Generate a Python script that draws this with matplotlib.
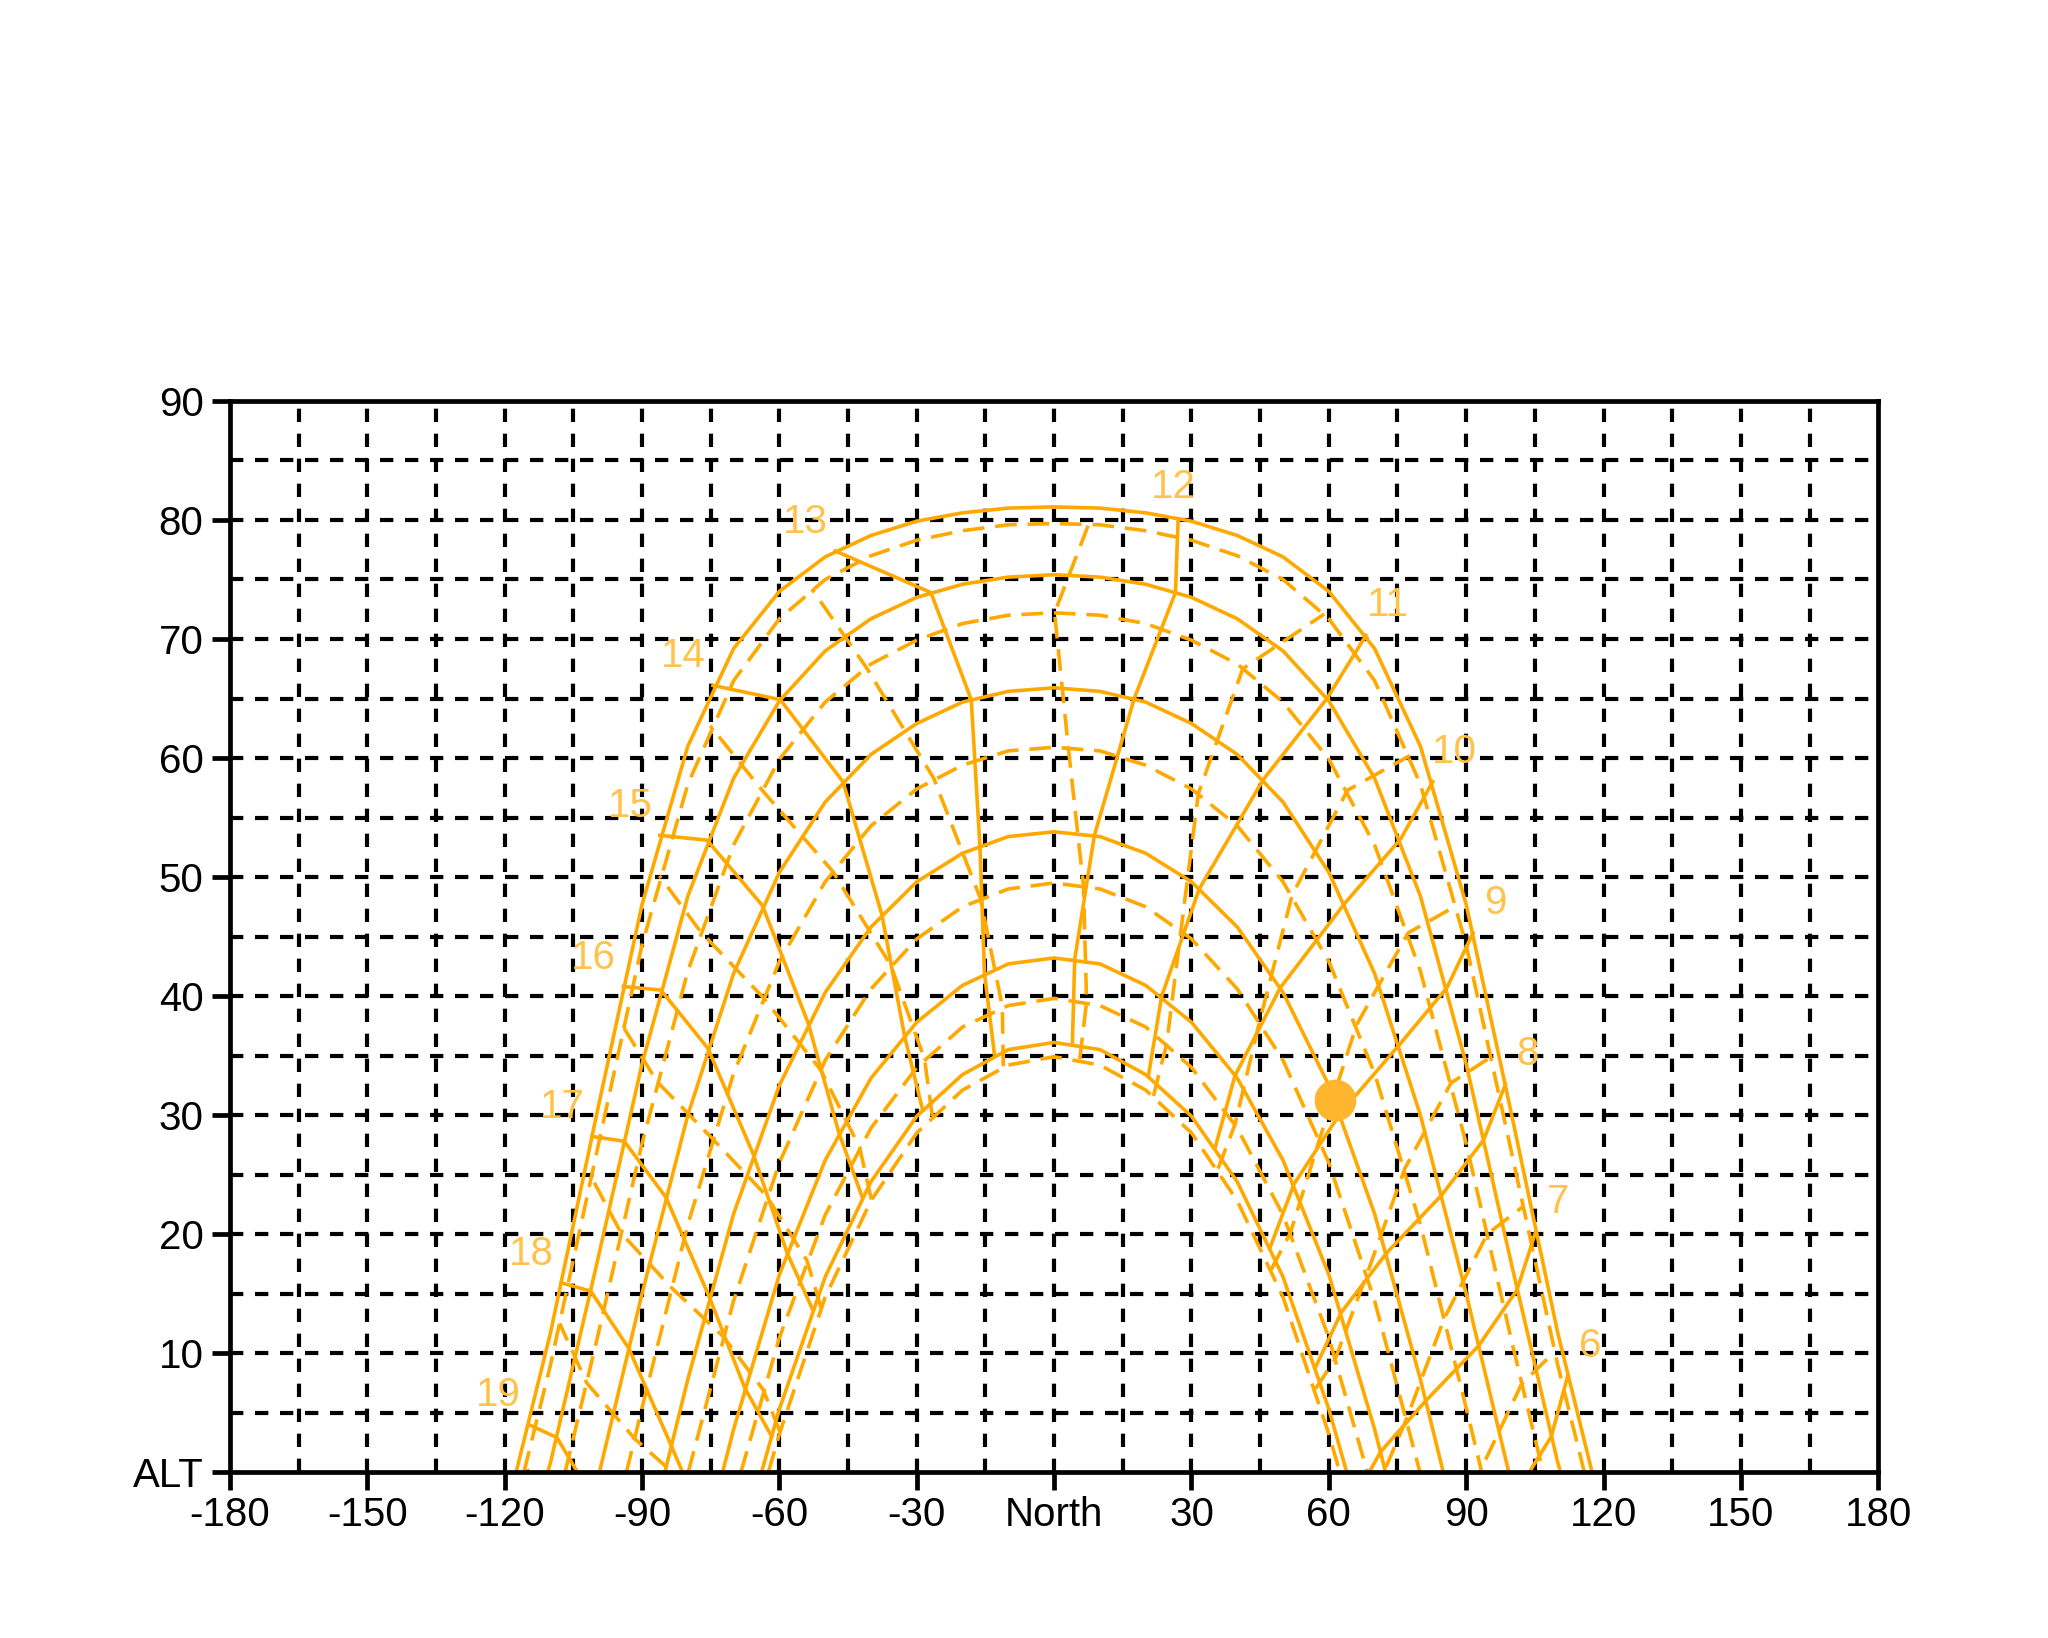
"""
Sun path diagram (altitude vs azimuth, North in the middle).
Solid curves: 1st of Jan..Jun, dashed curves: 1st of Jul..Dec.
"""

import matplotlib

matplotlib.use("Agg")
import matplotlib.pyplot as plt
import numpy as np

# ---------------------------------------------------------------- data
MONTHS = ["Jan", "Feb", "Mar", "Apr", "May", "Jun",
          "Jul", "Aug", "Sep", "Oct", "Nov", "Dec"]

# azimuth where each day path meets the horizon (east +, west -)
RISE_AZ = [117.5, 110.6, 99.3, 85.0, 72.4, 63.9, 62.4, 68.4, 79.9, 93.4, 106.8, 115.8]

# day paths sampled at fixed azimuths (None = sun never there that day)
ARC_AZ = [-120, -110, -100, -90, -80, -70, -60, -50, -40, -30, -20, -10, 0,
          10, 20, 30, 40, 50, 60, 70, 80, 90, 100, 110, 120]
ARC_ALT = [
    [None, 11.7, 29.9, 47.7, 61.0, 69.2, 74.0, 76.9, 78.7, 79.9, 80.6, 81.0, 81.1,
     81.0, 80.6, 79.9, 78.7, 76.9, 74.0, 69.2, 61.0, 47.7, 29.9, 11.7, None],  # Jan
    [None, 0.8, 17.3, 34.3, 48.4, 58.3, 64.8, 69.0, 71.7, 73.5, 74.6, 75.2, 75.4,
     75.2, 74.6, 73.5, 71.7, 69.0, 64.8, 58.3, 48.4, 34.3, 17.3, 0.8, None],  # Feb
    [None, None, None, 15.0, 30.0, 41.9, 50.4, 56.3, 60.3, 62.9, 64.7, 65.6, 65.9,
     65.6, 64.7, 62.9, 60.3, 56.3, 50.4, 41.9, 30.0, 15.0, None, None, None],  # Mar
    [None, None, None, None, 7.8, 21.7, 32.5, 40.3, 45.8, 49.6, 52.0, 53.4, 53.8,
     53.4, 52.0, 49.6, 45.8, 40.3, 32.5, 21.7, 7.8, None, None, None, None],  # Apr
    [None, None, None, None, None, 3.6, 16.6, 26.2, 33.1, 37.8, 40.9, 42.7, 43.2,
     42.7, 40.9, 37.8, 33.1, 26.2, 16.6, 3.6, None, None, None, None, None],  # May
    [None, None, None, None, None, None, 5.3, 16.4, 24.4, 29.9, 33.4, 35.5, 36.1,
     35.5, 33.4, 29.9, 24.4, 16.4, 5.3, None, None, None, None, None, None],  # Jun
    [None, None, None, None, None, None, 3.2, 14.7, 22.8, 28.5, 32.1, 34.2, 34.9,
     34.2, 32.1, 28.5, 22.8, 14.7, 3.2, None, None, None, None, None, None],  # Jul
    [None, None, None, None, None, None, 11.3, 21.6, 28.9, 34.0, 37.4, 39.2, 39.8,
     39.2, 37.4, 34.0, 28.9, 21.6, 11.3, None, None, None, None, None, None],  # Aug
    [None, None, None, None, None, 14.4, 26.0, 34.6, 40.6, 44.8, 47.5, 49.0, 49.5,
     49.0, 47.5, 44.8, 40.6, 34.6, 26.0, 14.4, None, None, None, None, None],  # Sep
    [None, None, None, 5.4, 20.8, 33.5, 42.9, 49.6, 54.3, 57.4, 59.4, 60.6, 60.9,
     60.6, 59.4, 57.4, 54.3, 49.6, 42.9, 33.5, 20.8, 5.4, None, None, None],  # Oct
    [None, None, 10.9, 27.6, 42.1, 52.7, 59.9, 64.7, 67.9, 69.9, 71.3, 72.0, 72.2,
     72.0, 71.3, 69.9, 67.9, 64.7, 59.9, 52.7, 42.1, 27.6, 10.9, None, None],  # Nov
    [None, 9.0, 26.7, 44.3, 57.8, 66.5, 71.7, 75.0, 77.0, 78.3, 79.1, 79.6, 79.7,
     79.6, 79.1, 78.3, 77.0, 75.0, 71.7, 66.5, 57.8, 44.3, 26.7, 9.0, None],  # Dec
]

# sun position at each clock hour, one row per month
HOURS = [6, 7, 8, 9, 10, 11, 12, 13, 14, 15, 16, 17, 18, 19]
HOUR_AZ = [
    [112.2, 105.2, 98.6, 91.5, 82.7, 68.1, 27.1, -47.8, -74.5, -86.1, -94.1, -100.9, -107.6, -114.8],
    [108.6, 101.1, 93.8, 85.8, 75.7, 59.6, 26.5, -26.9, -59.8, -75.8, -85.9, -93.9, -101.2, -108.6],
    [100.6, 92.7, 84.7, 75.4, 63.5, 45.7, 17.5, -18.1, -46.1, -63.7, -75.6, -84.8, -92.9, -100.7],
    [89.2, 81.2, 72.6, 62.4, 49.4, 31.7, 8.8, -16.2, -37.6, -53.7, -65.7, -75.3, -83.6, -91.6],
    [79.0, 71.3, 62.7, 52.4, 39.5, 23.5, 4.5, -15.2, -32.7, -47.0, -58.3, -67.6, -75.6, -83.1],
    [72.8, 65.5, 57.1, 47.2, 35.2, 20.6, 4.0, -13.0, -28.7, -41.9, -52.8, -61.7, -69.4, -76.4],
    [72.3, 65.2, 57.1, 47.4, 35.8, 21.7, 5.6, -11.1, -26.6, -39.9, -50.9, -59.9, -67.7, -74.6],
    [77.2, 69.7, 61.4, 51.6, 39.5, 24.6, 7.1, -11.3, -28.3, -42.5, -54.0, -63.5, -71.5, -78.9],
    [84.9, 77.0, 68.3, 58.0, 44.9, 27.7, 6.4, -16.1, -35.7, -51.0, -62.8, -72.3, -80.5, -88.3],
    [93.2, 85.2, 76.6, 66.1, 52.0, 31.5, 3.1, -26.3, -48.4, -63.6, -74.6, -83.6, -91.6, -99.7],
    [102.1, 94.6, 86.7, 77.3, 64.1, 41.2, 0.1, -41.0, -64.0, -77.2, -86.7, -94.6, -102.1, -110.0],
    [109.3, 102.4, 95.5, 87.9, 77.7, 59.0, 7.6, -52.9, -75.1, -86.2, -94.1, -101.1, -108.0, -115.4],
]
HOUR_ALT = [
    [8.1, 20.2, 32.6, 45.3, 58.0, 70.3, 80.1, 77.4, 66.1, 53.5, 40.8, 28.2, 15.9, 4.0],
    [3.0, 15.3, 27.9, 40.7, 53.2, 65.0, 73.9, 73.9, 64.9, 53.1, 40.5, 27.8, 15.2, 2.9],
    [-2.0, 10.6, 23.3, 35.9, 47.8, 58.2, 65.0, 64.9, 58.0, 47.6, 35.6, 23.1, 10.4, -2.2],
    [-6.7, 6.0, 18.4, 30.1, 40.7, 49.0, 53.5, 52.6, 46.8, 37.7, 26.7, 14.7, 2.2, -10.5],
    [-10.6, 1.7, 13.4, 24.2, 33.3, 40.0, 43.1, 41.9, 36.7, 28.5, 18.4, 7.1, -5.0, -17.5],
    [-14.2, -2.3, 8.8, 18.9, 27.3, 33.3, 36.0, 35.0, 30.4, 23.1, 13.7, 3.0, -8.6, -20.8],
    [-16.0, -4.2, 7.0, 17.0, 25.5, 31.6, 34.7, 34.1, 29.9, 22.9, 13.8, 3.4, -8.1, -20.1],
    [-14.3, -2.1, 9.5, 20.1, 29.2, 36.0, 39.5, 39.1, 34.7, 27.3, 17.8, 6.9, -4.8, -17.1],
    [-8.1, 4.5, 16.6, 28.0, 37.9, 45.5, 49.3, 48.2, 42.6, 33.8, 23.2, 11.4, -1.0, -13.6],
    [0.2, 12.9, 25.5, 37.6, 48.5, 57.0, 60.9, 58.3, 50.5, 39.9, 28.0, 15.5, 2.8, -9.8],
    [7.4, 20.0, 32.7, 45.3, 57.3, 67.5, 72.2, 67.6, 57.4, 45.4, 32.8, 20.1, 7.5, -4.7],
    [10.1, 22.3, 34.9, 47.6, 60.2, 72.1, 79.7, 74.2, 62.7, 50.1, 37.4, 24.8, 12.5, 0.6],
]

# current sun position (big dot)
SUN_AZ = 61.4
SUN_ALT = 31.3

X_TICKS = [-180, -150, -120, -90, -60, -30, 0, 30, 60, 90, 120, 150, 180]
X_LABELS = ["-180", "-150", "-120", "-90", "-60", "-30", "North",
            "30", "60", "90", "120", "150", "180"]
Y_TICKS = [0, 10, 20, 30, 40, 50, 60, 70, 80, 90]
Y_LABELS = ["ALT", "10", "20", "30", "40", "50", "60", "70", "80", "90"]

# ---------------------------------------------------------------- style
ORANGE = "#FFA800"
LABEL_ORANGE = "#FFC24A"
DOT_ORANGE = "#FFB52E"
SOLID = "-"
DASHED = (0, (6.0, 3.0))
GRID_DASH = (0, (3.2, 2.8))
FONT = ["Liberation Sans", "DejaVu Sans"]

plt.rcParams["font.family"] = FONT

fig = plt.figure(figsize=(20.48, 16.38), dpi=100)
ax = fig.add_axes([0.1123, 0.1013, 0.8048, 0.6539])
ax.set_xlim(-180, 180)
ax.set_ylim(0, 90)

# dashed black grid: every 15 deg azimuth, every 5 deg altitude
for gx in range(-165, 180, 15):
    ax.axvline(gx, color="black", lw=3.0, linestyle=GRID_DASH, zorder=1)
for gy in range(5, 90, 5):
    ax.axhline(gy, color="black", lw=3.0, linestyle=GRID_DASH, zorder=1)

# day paths
arc_az = np.array(ARC_AZ, dtype=float)
for i, month in enumerate(MONTHS):
    alt = np.array(ARC_ALT[i], dtype=float)
    keep = ~np.isnan(alt)
    xs = np.concatenate([[-RISE_AZ[i]], arc_az[keep], [RISE_AZ[i]]])
    ys = np.concatenate([[0.0], alt[keep], [0.0]])
    style = SOLID if i < 6 else DASHED
    ax.plot(xs, ys, color=ORANGE, lw=2.6, linestyle=style, zorder=3)

# hour lines: Jan..Jun solid, Jul..Dec dashed
haz = np.array(HOUR_AZ)
halt = np.array(HOUR_ALT)
for j, hour in enumerate(HOURS):
    ax.plot(haz[:6, j], halt[:6, j], color=ORANGE, lw=2.6, linestyle=SOLID, zorder=3)
    ax.plot(haz[6:, j], halt[6:, j], color=ORANGE, lw=2.6, linestyle=DASHED, zorder=3)

    # hour label just outside the January point
    if hour < 12:
        off = (22, 30)
    elif hour == 12:
        off = (-5, 32)
    else:
        off = (-30, 29)
    ax.annotate(str(hour), (haz[0, j], halt[0, j]), xytext=off,
                textcoords="offset pixels", ha="center", va="center",
                fontsize=29, color=LABEL_ORANGE, zorder=4, annotation_clip=False)

# current sun position
ax.plot(SUN_AZ, SUN_ALT, "o", ms=29, color=DOT_ORANGE, mec=DOT_ORANGE, zorder=5)

# axes frame and ticks
for side in ax.spines.values():
    side.set_linewidth(3.4)
    side.set_color("black")
    side.set_zorder(6)

ax.set_xticks(X_TICKS)
ax.set_xticklabels(X_LABELS)
ax.set_yticks(Y_TICKS)
ax.set_yticklabels(Y_LABELS)
ax.tick_params(axis="both", direction="out", length=13, width=3.4,
               labelsize=29, colors="black")
ax.tick_params(axis="x", pad=4)
ax.tick_params(axis="y", pad=6)
ax.tick_params(top=False, right=False)

fig.savefig("out.png", dpi=100, facecolor="white")
